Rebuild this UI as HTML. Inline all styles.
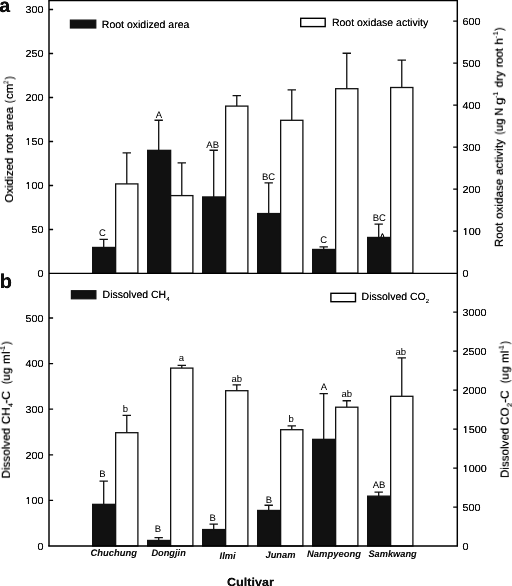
<!DOCTYPE html>
<html lang="en"><head><meta charset="utf-8"><title>Figure</title>
<style>html,body{margin:0;padding:0;background:#fff}svg{display:block}</style></head>
<body>
<svg width="512" height="586" viewBox="0 0 512 586" font-family="&quot;Liberation Sans&quot;, Arial, Helvetica, sans-serif" fill="#111" text-rendering="geometricPrecision">
<defs><filter id="bd" x="-5%" y="-5%" width="110%" height="110%" color-interpolation-filters="sRGB"><feComponentTransfer><feFuncA type="linear" slope="1.45" intercept="0"/></feComponentTransfer></filter><filter id="bd2" x="-5%" y="-5%" width="110%" height="110%" color-interpolation-filters="sRGB"><feComponentTransfer><feFuncA type="linear" slope="1.4" intercept="0"/></feComponentTransfer></filter><filter id="bd3" x="-5%" y="-5%" width="110%" height="110%" color-interpolation-filters="sRGB"><feComponentTransfer><feFuncA type="linear" slope="1.12" intercept="0"/></feComponentTransfer></filter></defs>
<style>text{filter:url(#bd)}text.r{filter:url(#bd2)}text.l,text.b{filter:url(#bd3)}</style>
<rect width="512" height="586" fill="#fff"/>
<text x="382.3" y="240.2" font-size="9.5" text-anchor="middle">A</text>
<path d="M103.70 247.45V239.45M99.50 239.45H107.90M126.78 183.90V152.95M122.58 152.95H130.97" stroke="#111" stroke-width="1.3" fill="none"/>
<rect x="92.65" y="247.45" width="23.00" height="25.75" fill="#111" stroke="#111" stroke-width="1.3"/>
<rect x="115.65" y="183.90" width="22.25" height="89.30" fill="#fff" stroke="#111" stroke-width="1.3"/>
<path d="M158.70 150.35V120.25M154.50 120.25H162.90M181.78 195.60V162.85M177.58 162.85H185.97" stroke="#111" stroke-width="1.3" fill="none"/>
<rect x="147.65" y="150.35" width="23.00" height="122.85" fill="#111" stroke="#111" stroke-width="1.3"/>
<rect x="170.65" y="195.60" width="22.25" height="77.60" fill="#fff" stroke="#111" stroke-width="1.3"/>
<path d="M213.70 196.95V150.25M209.50 150.25H217.90M236.78 106.10V95.55M232.58 95.55H240.97" stroke="#111" stroke-width="1.3" fill="none"/>
<rect x="202.65" y="196.95" width="23.00" height="76.25" fill="#111" stroke="#111" stroke-width="1.3"/>
<rect x="225.65" y="106.10" width="22.25" height="167.10" fill="#fff" stroke="#111" stroke-width="1.3"/>
<path d="M268.70 213.55V182.95M264.50 182.95H272.90M291.77 120.30V89.95M287.57 89.95H295.97" stroke="#111" stroke-width="1.3" fill="none"/>
<rect x="257.65" y="213.55" width="23.00" height="59.65" fill="#111" stroke="#111" stroke-width="1.3"/>
<rect x="280.65" y="120.30" width="22.25" height="152.90" fill="#fff" stroke="#111" stroke-width="1.3"/>
<path d="M323.70 249.45V246.95M319.50 246.95H327.90M346.77 88.70V53.25M342.57 53.25H350.97" stroke="#111" stroke-width="1.3" fill="none"/>
<rect x="312.65" y="249.45" width="23.00" height="23.75" fill="#111" stroke="#111" stroke-width="1.3"/>
<rect x="335.65" y="88.70" width="22.25" height="184.50" fill="#fff" stroke="#111" stroke-width="1.3"/>
<path d="M378.70 237.45V224.15M374.50 224.15H382.90M401.77 87.50V60.15M397.57 60.15H405.97" stroke="#111" stroke-width="1.3" fill="none"/>
<rect x="367.65" y="237.45" width="23.00" height="35.75" fill="#111" stroke="#111" stroke-width="1.3"/>
<rect x="390.65" y="87.50" width="22.25" height="185.70" fill="#fff" stroke="#111" stroke-width="1.3"/>
<path d="M103.70 504.35V481.05M99.50 481.05H107.90M126.78 432.70V415.45M122.58 415.45H130.97" stroke="#111" stroke-width="1.3" fill="none"/>
<rect x="92.65" y="504.35" width="23.00" height="41.65" fill="#111" stroke="#111" stroke-width="1.3"/>
<rect x="115.65" y="432.70" width="22.25" height="113.30" fill="#fff" stroke="#111" stroke-width="1.3"/>
<path d="M158.70 540.45V537.55M154.50 537.55H162.90M181.78 368.10V365.45M177.58 365.45H185.97" stroke="#111" stroke-width="1.3" fill="none"/>
<rect x="147.65" y="540.45" width="23.00" height="5.55" fill="#111" stroke="#111" stroke-width="1.3"/>
<rect x="170.65" y="368.10" width="22.25" height="177.90" fill="#fff" stroke="#111" stroke-width="1.3"/>
<path d="M213.70 529.55V524.05M209.50 524.05H217.90M236.78 390.70V384.95M232.58 384.95H240.97" stroke="#111" stroke-width="1.3" fill="none"/>
<rect x="202.65" y="529.55" width="23.00" height="16.45" fill="#111" stroke="#111" stroke-width="1.3"/>
<rect x="225.65" y="390.70" width="22.25" height="155.30" fill="#fff" stroke="#111" stroke-width="1.3"/>
<path d="M268.70 510.45V505.25M264.50 505.25H272.90M291.77 429.70V425.95M287.57 425.95H295.97" stroke="#111" stroke-width="1.3" fill="none"/>
<rect x="257.65" y="510.45" width="23.00" height="35.55" fill="#111" stroke="#111" stroke-width="1.3"/>
<rect x="280.65" y="429.70" width="22.25" height="116.30" fill="#fff" stroke="#111" stroke-width="1.3"/>
<path d="M323.70 439.35V393.65M319.50 393.65H327.90M346.77 407.20V400.75M342.57 400.75H350.97" stroke="#111" stroke-width="1.3" fill="none"/>
<rect x="312.65" y="439.35" width="23.00" height="106.65" fill="#111" stroke="#111" stroke-width="1.3"/>
<rect x="335.65" y="407.20" width="22.25" height="138.80" fill="#fff" stroke="#111" stroke-width="1.3"/>
<path d="M378.70 496.15V492.05M374.50 492.05H382.90M401.77 396.30V357.95M397.57 357.95H405.97" stroke="#111" stroke-width="1.3" fill="none"/>
<rect x="367.65" y="496.15" width="23.00" height="49.85" fill="#111" stroke="#111" stroke-width="1.3"/>
<rect x="390.65" y="396.30" width="22.25" height="149.70" fill="#fff" stroke="#111" stroke-width="1.3"/>
<path d="M49.0 546.3V0.7M457.3 0.7V546.3" stroke="#000" stroke-width="1.45" fill="none" stroke-linecap="butt"/>
<path d="M48.275 0.7H458.02500000000003M49.0 273.34999999999997H457.3M48.275 546.0H458.02500000000003" stroke="#000" stroke-width="1.3" fill="none"/>
<text transform="translate(43.4 13.20) scale(1.06 1)" font-size="10.2" text-anchor="end">300</text>
<text transform="translate(462.6 24.90) scale(1.06 1)" font-size="10.2">600</text>
<text transform="translate(43.4 57.20) scale(1.06 1)" font-size="10.2" text-anchor="end">250</text>
<text transform="translate(462.6 66.90) scale(1.06 1)" font-size="10.2">500</text>
<text transform="translate(43.4 101.20) scale(1.06 1)" font-size="10.2" text-anchor="end">200</text>
<text transform="translate(462.6 108.90) scale(1.06 1)" font-size="10.2">400</text>
<text transform="translate(43.4 145.20) scale(1.06 1)" font-size="10.2" text-anchor="end"><tspan font-family="NanumGothic, &quot;Liberation Sans&quot;, sans-serif" font-weight="bold" font-size="9.4">1</tspan>50</text>
<text transform="translate(462.6 150.90) scale(1.06 1)" font-size="10.2">300</text>
<text transform="translate(43.4 189.20) scale(1.06 1)" font-size="10.2" text-anchor="end"><tspan font-family="NanumGothic, &quot;Liberation Sans&quot;, sans-serif" font-weight="bold" font-size="9.4">1</tspan>00</text>
<text transform="translate(462.6 192.90) scale(1.06 1)" font-size="10.2">200</text>
<text transform="translate(43.4 233.20) scale(1.06 1)" font-size="10.2" text-anchor="end">50</text>
<text transform="translate(462.6 234.90) scale(1.06 1)" font-size="10.2"><tspan font-family="NanumGothic, &quot;Liberation Sans&quot;, sans-serif" font-weight="bold" font-size="9.4">1</tspan>00</text>
<text transform="translate(43.4 277.20) scale(1.06 1)" font-size="10.2" text-anchor="end">0</text>
<text transform="translate(462.6 276.90) scale(1.06 1)" font-size="10.2">0</text>
<text transform="translate(43.4 321.70) scale(1.06 1)" font-size="10.2" text-anchor="end">500</text>
<text transform="translate(43.4 367.30) scale(1.06 1)" font-size="10.2" text-anchor="end">400</text>
<text transform="translate(43.4 412.90) scale(1.06 1)" font-size="10.2" text-anchor="end">300</text>
<text transform="translate(43.4 458.50) scale(1.06 1)" font-size="10.2" text-anchor="end">200</text>
<text transform="translate(43.4 504.10) scale(1.06 1)" font-size="10.2" text-anchor="end"><tspan font-family="NanumGothic, &quot;Liberation Sans&quot;, sans-serif" font-weight="bold" font-size="9.4">1</tspan>00</text>
<text transform="translate(43.4 549.70) scale(1.06 1)" font-size="10.2" text-anchor="end">0</text>
<text transform="translate(462.6 315.90) scale(1.06 1)" font-size="10.2">3000</text>
<text transform="translate(462.6 354.87) scale(1.06 1)" font-size="10.2">2500</text>
<text transform="translate(462.6 393.84) scale(1.06 1)" font-size="10.2">2000</text>
<text transform="translate(462.6 432.81) scale(1.06 1)" font-size="10.2"><tspan font-family="NanumGothic, &quot;Liberation Sans&quot;, sans-serif" font-weight="bold" font-size="9.4">1</tspan>500</text>
<text transform="translate(462.6 471.78) scale(1.06 1)" font-size="10.2"><tspan font-family="NanumGothic, &quot;Liberation Sans&quot;, sans-serif" font-weight="bold" font-size="9.4">1</tspan>000</text>
<text transform="translate(462.6 510.75) scale(1.06 1)" font-size="10.2">500</text>
<text transform="translate(462.6 549.72) scale(1.06 1)" font-size="10.2">0</text>
<path d="M49.0 9.50h4.1M457.3 21.20h-4.1M49.0 53.50h4.1M457.3 63.20h-4.1M49.0 97.50h4.1M457.3 105.20h-4.1M49.0 141.50h4.1M457.3 147.20h-4.1M49.0 185.50h4.1M457.3 189.20h-4.1M49.0 229.50h4.1M457.3 231.20h-4.1M49.0 318.00h4.1M49.0 363.60h4.1M49.0 409.20h4.1M49.0 454.80h4.1M49.0 500.40h4.1M457.3 312.20h-4.1M457.3 351.17h-4.1M457.3 390.14h-4.1M457.3 429.11h-4.1M457.3 468.08h-4.1M457.3 507.05h-4.1" stroke="#000" stroke-width="1.3" fill="none"/>
<text class="l" x="102.5" y="235.5" font-size="9.5" text-anchor="middle">C</text>
<text class="l" x="158.9" y="117.5" font-size="9.5" text-anchor="middle">A</text>
<text class="l" x="212.7" y="147.9" font-size="9.5" text-anchor="middle">AB</text>
<text class="l" x="268.6" y="180.2" font-size="9.5" text-anchor="middle">BC</text>
<text class="l" x="323.6" y="243.3" font-size="9.5" text-anchor="middle">C</text>
<text class="l" x="379.3" y="221.0" font-size="9.5" text-anchor="middle">BC</text>
<text class="l" x="102.5" y="477.0" font-size="9.5" text-anchor="middle">B</text>
<text class="l" x="125.5" y="412.1" font-size="9.5" text-anchor="middle">b</text>
<text class="l" x="157.8" y="531.7" font-size="9.5" text-anchor="middle">B</text>
<text class="l" x="181.5" y="361.3" font-size="9.5" text-anchor="middle">a</text>
<text class="l" x="212.7" y="521.4" font-size="9.5" text-anchor="middle">B</text>
<text class="l" x="236.7" y="382.0" font-size="9.5" text-anchor="middle">ab</text>
<text class="l" x="268.9" y="502.7" font-size="9.5" text-anchor="middle">B</text>
<text class="l" x="291.1" y="421.9" font-size="9.5" text-anchor="middle">b</text>
<text class="l" x="323.8" y="389.9" font-size="9.5" text-anchor="middle">A</text>
<text class="l" x="346.7" y="397.1" font-size="9.5" text-anchor="middle">ab</text>
<text class="l" x="379.0" y="488.4" font-size="9.5" text-anchor="middle">AB</text>
<text class="l" x="400.8" y="355.0" font-size="9.5" text-anchor="middle">ab</text>
<rect x="70.4" y="20.1" width="25.4" height="7.9" fill="#111" stroke="#111" stroke-width="1.2"/>
<text x="101.8" y="27.6" font-size="10.5">Root oxidized area</text>
<rect x="300.7" y="18.3" width="24.5" height="8.3" fill="#fff" stroke="#000" stroke-width="1.4"/>
<text x="331.9" y="25.7" font-size="10.5">Root oxidase activity</text>
<rect x="71.4" y="290.7" width="24.5" height="8.1" fill="#111" stroke="#111" stroke-width="1.2"/>
<text x="102.6" y="297.5" font-size="10.5">Dissolved CH<tspan font-size="5.9" dy="3.3">4</tspan></text>
<rect x="330.9" y="293.3" width="24.6" height="8.4" fill="#fff" stroke="#000" stroke-width="1.4"/>
<text x="361.6" y="299.5" font-size="10.5">Dissolved CO<tspan font-size="5.9" dy="3.8">2</tspan></text>
<text x="-0.8" y="11.5" font-size="19.5" font-weight="bold">a</text>
<text x="-0.2" y="287.5" font-size="20" font-weight="bold">b</text>
<text class="r" transform="translate(13.00 202.57) rotate(-90)" font-size="11.5" letter-spacing="0.039">Oxidized</text>
<text class="r" transform="translate(13.00 153.30) rotate(-90)" font-size="11.5" letter-spacing="-0.225">root</text>
<text class="r" transform="translate(13.00 130.51) rotate(-90)" font-size="11.5" letter-spacing="0.153">area</text>
<text class="r" transform="translate(13.00 102.85) rotate(-90)" font-size="11.5" textLength="2.76" lengthAdjust="spacingAndGlyphs">(</text>
<text class="r" transform="translate(13.00 99.11) rotate(-90)" font-size="11.5" letter-spacing="0.055">cm</text>
<text class="r" transform="translate(8.40 83.82) rotate(-90)" font-size="6.8" textLength="3.06" lengthAdjust="spacingAndGlyphs">2</text>
<text class="r" transform="translate(13.00 79.40) rotate(-90)" font-size="11.5" textLength="3.02" lengthAdjust="spacingAndGlyphs">)</text>
<text class="r" transform="translate(502.80 247.07) rotate(-90)" font-size="11.5" letter-spacing="0.038">Root</text>
<text class="r" transform="translate(502.80 218.81) rotate(-90)" font-size="11.5" letter-spacing="0.084">oxidase</text>
<text class="r" transform="translate(502.80 175.21) rotate(-90)" font-size="11.5" letter-spacing="0.118">activity</text>
<text class="r" transform="translate(502.80 134.35) rotate(-90)" font-size="11.5" textLength="2.76" lengthAdjust="spacingAndGlyphs">(</text>
<text class="r" transform="translate(502.80 131.40) rotate(-90)" font-size="11.5" letter-spacing="0.073">ug</text>
<text class="r" transform="translate(502.80 115.62) rotate(-90)" font-size="11.5" textLength="7.87" lengthAdjust="spacingAndGlyphs">N</text>
<text class="r" transform="translate(502.80 104.89) rotate(-90)" font-size="11.5" textLength="7.46" lengthAdjust="spacingAndGlyphs">g</text>
<text class="r" transform="translate(502.80 87.41) rotate(-90)" font-size="11.5" letter-spacing="0.188">dry</text>
<text class="r" transform="translate(502.80 67.40) rotate(-90)" font-size="11.5" letter-spacing="-0.225">root</text>
<text class="r" transform="translate(502.80 44.68) rotate(-90)" font-size="11.5" textLength="6.62" lengthAdjust="spacingAndGlyphs">h</text>
<text class="r" transform="translate(497.90 97.86) rotate(-90)" font-size="6.8" letter-spacing="0.060">-1</text>
<text class="r" transform="translate(497.90 38.26) rotate(-90)" font-size="6.8" letter-spacing="0.660">-1</text>
<text class="r" transform="translate(502.80 30.80) rotate(-90)" font-size="11.5" textLength="3.27" lengthAdjust="spacingAndGlyphs">)</text>
<text class="r" transform="translate(9.80 478.47) rotate(-90)" font-size="11.5" letter-spacing="0.082">Dissolved</text>
<text class="r" transform="translate(9.80 424.22) rotate(-90)" font-size="11.5" letter-spacing="0.235">CH</text>
<text class="r" transform="translate(9.80 399.76) rotate(-90)" font-size="11.5" textLength="8.87" lengthAdjust="spacingAndGlyphs">C</text>
<text class="r" transform="translate(9.80 383.89) rotate(-90)" font-size="11.5" textLength="3.02" lengthAdjust="spacingAndGlyphs">(</text>
<text class="r" transform="translate(9.80 380.70) rotate(-90)" font-size="11.5" letter-spacing="0.272">ug</text>
<text class="r" transform="translate(9.80 364.00) rotate(-90)" font-size="11.5" letter-spacing="0.362">ml</text>
<text class="r" transform="translate(10.30 403.74) rotate(-90)" font-size="13.5" textLength="4.35" lengthAdjust="spacingAndGlyphs">-</text>
<text class="r" transform="translate(12.80 406.89) rotate(-90)" font-size="6.5" textLength="3.82" lengthAdjust="spacingAndGlyphs">4</text>
<text class="r" transform="translate(4.90 351.46) rotate(-90)" font-size="6.8" letter-spacing="-0.540">-1</text>
<text class="r" transform="translate(9.80 344.70) rotate(-90)" font-size="11.5" textLength="3.27" lengthAdjust="spacingAndGlyphs">)</text>
<text class="r" transform="translate(508.60 477.97) rotate(-90)" font-size="11.5" letter-spacing="0.045">Dissolved</text>
<text class="r" transform="translate(508.60 424.93) rotate(-90)" font-size="11.5" letter-spacing="0.300">CO</text>
<text class="r" transform="translate(508.60 399.06) rotate(-90)" font-size="11.5" textLength="8.76" lengthAdjust="spacingAndGlyphs">C</text>
<text class="r" transform="translate(508.60 383.12) rotate(-90)" font-size="11.5" textLength="3.14" lengthAdjust="spacingAndGlyphs">(</text>
<text class="r" transform="translate(508.60 379.70) rotate(-90)" font-size="11.5" letter-spacing="0.572">ug</text>
<text class="r" transform="translate(508.60 363.00) rotate(-90)" font-size="11.5" letter-spacing="0.163">ml</text>
<text class="r" transform="translate(509.10 402.92) rotate(-90)" font-size="13.5" textLength="4.21" lengthAdjust="spacingAndGlyphs">-</text>
<text class="r" transform="translate(511.70 407.02) rotate(-90)" font-size="6.5" textLength="4.16" lengthAdjust="spacingAndGlyphs">2</text>
<text class="r" transform="translate(503.70 350.46) rotate(-90)" font-size="6.8" letter-spacing="-0.940">-1</text>
<text class="r" transform="translate(508.60 344.20) rotate(-90)" font-size="11.5" textLength="3.02" lengthAdjust="spacingAndGlyphs">)</text>
<text class="b" x="90.5" y="555.8" font-size="9.5" font-weight="bold" font-style="italic" textLength="46.5" lengthAdjust="spacingAndGlyphs">Chuchung</text>
<text class="b" x="151.4" y="555.9" font-size="9.5" font-weight="bold" font-style="italic" textLength="34.4" lengthAdjust="spacingAndGlyphs">Dongjin</text>
<text class="b" x="219.6" y="558.5" font-size="9.5" font-weight="bold" font-style="italic" textLength="16.0" lengthAdjust="spacingAndGlyphs">Ilmi</text>
<text class="b" x="265.5" y="557.6" font-size="9.5" font-weight="bold" font-style="italic" textLength="30.0" lengthAdjust="spacingAndGlyphs">Junam</text>
<text class="b" x="307.0" y="556.6" font-size="9.5" font-weight="bold" font-style="italic" textLength="53.9" lengthAdjust="spacingAndGlyphs">Nampyeong</text>
<text class="b" x="368.4" y="557.2" font-size="9.5" font-weight="bold" font-style="italic" textLength="48.3" lengthAdjust="spacingAndGlyphs">Samkwang</text>
<text transform="translate(227.0 586.0) scale(1.075 1)" font-size="11.7" font-weight="bold">Cultivar</text>
</svg>
</body></html>
